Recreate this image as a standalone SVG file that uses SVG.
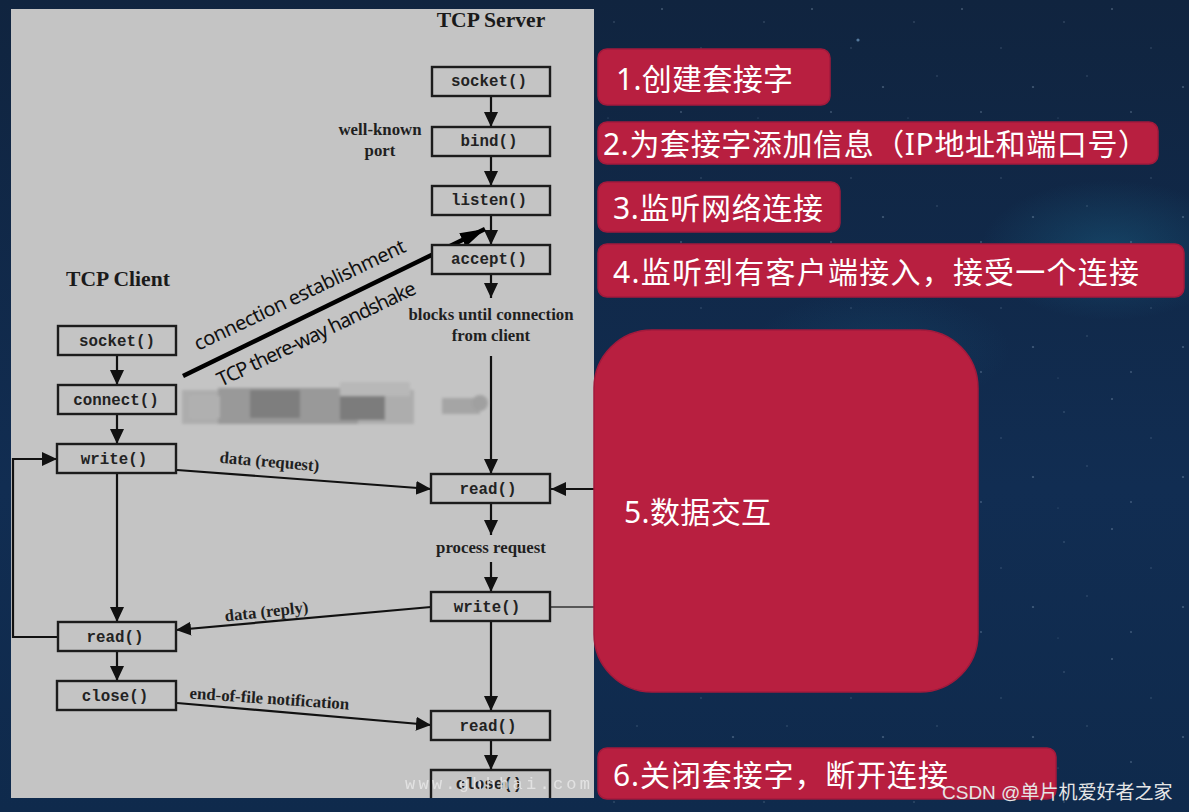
<svg xmlns="http://www.w3.org/2000/svg" width="1189" height="812" viewBox="0 0 1189 812">
<style>
.box{fill:#c4c4c4;stroke:#1c1c1c;stroke-width:2.4}
.fn{font-family:"Liberation Mono",monospace;font-weight:700;font-size:15.8px;fill:#222;text-anchor:middle}
.lb{font-family:"Liberation Serif",serif;font-weight:700;font-size:16.8px;fill:#1f1f1f;text-anchor:middle}
.hd{font-family:"Liberation Serif",serif;font-weight:700;font-size:21.6px;fill:#1a1a1a;text-anchor:middle}
.cn{fill:none;stroke:#111;stroke-width:2.2}
.rd{fill:#b81f40;stroke:#a21a3c;stroke-width:1.5}
.zh{font-family:"Noto Sans","Noto Sans CJK SC",sans-serif;font-size:30px;fill:#fff}
.an{font-family:"Noto Sans","Liberation Sans",sans-serif;font-size:20px;fill:#111}
</style>
<defs>
<marker id="a" markerUnits="userSpaceOnUse" markerWidth="17" markerHeight="15" refX="15" refY="7" orient="auto"><path d="M0 0L15 7L0 14z" fill="#111"/></marker>
<marker id="b" markerUnits="userSpaceOnUse" markerWidth="28" markerHeight="16" refX="25" refY="7.5" orient="auto"><path d="M0 0L25 7.5L0 15z" fill="#000"/></marker>
<linearGradient id="bg" x1="0" y1="0" x2="0" y2="1"><stop offset="0" stop-color="#10243f"/><stop offset=".6" stop-color="#112d52"/><stop offset="1" stop-color="#0f2a4c"/></linearGradient>
<radialGradient id="neb"><stop offset="0" stop-color="#1b6286" stop-opacity=".45"/><stop offset="1" stop-color="#1b6286" stop-opacity="0"/></radialGradient>
<filter id="bl"><feGaussianBlur stdDeviation="1.4"/></filter>
<pattern id="stars" width="150" height="130" patternUnits="userSpaceOnUse"><g fill="#9fb8cf" opacity=".35"><circle cx="14" cy="22" r=".8"/><circle cx="62" cy="9" r="1"/><circle cx="101" cy="48" r=".7"/><circle cx="133" cy="87" r="1.1"/><circle cx="37" cy="76" r=".7"/><circle cx="81" cy="112" r=".9"/><circle cx="8" cy="118" r=".6"/></g></pattern>
</defs>
<rect id="background" width="1189" height="812" fill="url(#bg)"/>
<ellipse cx="1110" cy="250" rx="130" ry="70" fill="url(#neb)"/>
<ellipse cx="880" cy="350" rx="130" ry="60" fill="url(#neb)" opacity=".5"/>
<rect x="594" width="595" height="812" fill="url(#stars)"/>
<circle cx="858" cy="40" r="1.6" fill="#54789c"/>
<rect id="panel" x="11" y="9" width="583" height="789" fill="#c4c4c4"/>

<g id="connectors">
<path class="cn" d="M491 97V127" marker-end="url(#a)"/>
<path class="cn" d="M491 156V186" marker-end="url(#a)"/>
<path class="cn" d="M491 215V245" marker-end="url(#a)"/>
<path class="cn" d="M491 274V298" marker-end="url(#a)"/>
<path class="cn" d="M491 356V474" marker-end="url(#a)"/>
<path class="cn" d="M491 503V535" marker-end="url(#a)"/>
<path class="cn" d="M491 562V592" marker-end="url(#a)"/>
<path class="cn" d="M491 621V711" marker-end="url(#a)"/>
<path class="cn" d="M491 740V770" marker-end="url(#a)"/>
<path class="cn" d="M117 355V385" marker-end="url(#a)"/>
<path class="cn" d="M117 414V444" marker-end="url(#a)"/>
<path class="cn" d="M117 473V622" marker-end="url(#a)"/>
<path class="cn" d="M117 651V681" marker-end="url(#a)"/>
<path class="cn" d="M58 637H13V459H57" marker-end="url(#a)"/>
<path class="cn" d="M177 470L431 489" marker-end="url(#a)"/>
<path class="cn" d="M431 607L176 630" marker-end="url(#a)"/>
<path class="cn" d="M177 703L431 725" marker-end="url(#a)"/>
<path class="cn" d="M594 489H551" marker-end="url(#a)"/>
<path d="M551 607H594" fill="none" stroke="#333" stroke-width="1.5"/>
<path d="M183 376L485 229" fill="none" stroke="#000" stroke-width="4.5" marker-end="url(#b)"/>
</g>

<g id="blur" filter="url(#bl)">
<rect x="182" y="390" width="232" height="34" fill="#adadad"/>
<rect x="218" y="388" width="140" height="36" fill="#999"/>
<rect x="250" y="390" width="50" height="28" fill="#7e7e7e"/>
<rect x="340" y="396" width="45" height="24" fill="#7c7c7c"/>
<rect x="190" y="396" width="30" height="22" fill="#b0b0b0"/>
<rect x="340" y="382" width="70" height="14" fill="#b8b8b8"/>
<rect x="442" y="398" width="38" height="16" fill="#a5a5a5"/>
<circle cx="480" cy="403" r="8" fill="#a0a0a0"/>
</g>

<g id="c-socket"><rect class="box" x="58" y="326" width="118" height="29"/><text class="fn" x="117" y="346">socket()</text></g>
<g id="c-connect"><rect class="box" x="58" y="385" width="118" height="29"/><text class="fn" x="116" y="405">connect()</text></g>
<g id="c-write"><rect class="box" x="57" y="444" width="119" height="29"/><text class="fn" x="114" y="464">write()</text></g>
<g id="c-read"><rect class="box" x="58" y="622" width="118" height="29"/><text class="fn" x="115" y="642">read()</text></g>
<g id="c-close"><rect class="box" x="57" y="681" width="119" height="29"/><text class="fn" x="115" y="701">close()</text></g>
<g id="s-socket"><rect class="box" x="432" y="67" width="118" height="29"/><text class="fn" x="489" y="86">socket()</text></g>
<g id="s-bind"><rect class="box" x="432" y="127" width="118" height="29"/><text class="fn" x="489" y="146">bind()</text></g>
<g id="s-listen"><rect class="box" x="432" y="186" width="118" height="29"/><text class="fn" x="489" y="205">listen()</text></g>
<g id="s-accept"><rect class="box" x="432" y="245" width="118" height="29"/><text class="fn" x="489" y="264">accept()</text></g>
<g id="s-read"><rect class="box" x="431" y="474" width="119" height="29"/><text class="fn" x="488" y="494">read()</text></g>
<g id="s-write"><rect class="box" x="431" y="592" width="119" height="29"/><text class="fn" x="487" y="612">write()</text></g>
<g id="s-read2"><rect class="box" x="431" y="711" width="119" height="29"/><text class="fn" x="488" y="731">read()</text></g>
<g id="s-close"><path class="box" d="M431 798V770H550V798"/><text class="fn" x="489" y="789">close()</text></g>

<g id="labels">
<text class="hd" x="491" y="27">TCP Server</text>
<text class="hd" x="118" y="286">TCP Client</text>
<text class="lb" x="380" y="135">well-known</text>
<text class="lb" x="380" y="156">port</text>
<text class="lb" x="491" y="320">blocks until connection</text>
<text class="lb" x="491" y="341">from client</text>
<text class="lb" x="491" y="553">process request</text>
<text class="lb" x="269" y="467" transform="rotate(5 269 467)">data (request)</text>
<text class="lb" x="267" y="617" transform="rotate(-6 267 617)">data (reply)</text>
<text class="lb" x="269" y="704" transform="rotate(4 269 704)">end-of-file notification</text>
<text class="an" x="198" y="351" transform="rotate(-25.5 198 351)" textLength="232">connection establishment</text>
<text class="an" x="221" y="387" transform="rotate(-25.5 221 387)" textLength="218">TCP there-way handshake</text>
<text x="405" y="789" font-family="Liberation Mono,monospace" font-size="17" fill="#e8e8e8" opacity=".85" textLength="185">www.ghhhai.com</text>
</g>

<g id="step1"><rect class="rd" x="598" y="49" width="232" height="56" rx="9"/><text class="zh" x="616" y="90" textLength="177">1.创建套接字</text></g>
<g id="step2"><rect class="rd" x="598" y="122" width="560" height="42" rx="9"/><text class="zh" x="603" y="155" textLength="545">2.为套接字添加信息（IP地址和端口号）</text></g>
<g id="step3"><rect class="rd" x="598" y="182" width="242" height="50" rx="9"/><text class="zh" x="613" y="219" textLength="210">3.监听网络连接</text></g>
<g id="step4"><rect class="rd" x="598" y="244" width="586" height="53" rx="9"/><text class="zh" x="613" y="283" textLength="526">4.监听到有客户端接入，接受一个连接</text></g>
<g id="step5"><rect class="rd" x="594" y="330" width="384" height="362" rx="58"/><text class="zh" x="624" y="523" textLength="147">5.数据交互</text></g>
<g id="step6"><rect class="rd" x="598" y="748" width="458" height="51" rx="9"/><text class="zh" x="613" y="786" textLength="335">6.关闭套接字，断开连接</text></g>
<text id="csdn" x="942" y="799" font-family="Liberation Sans,Noto Sans CJK SC,sans-serif" font-size="19" fill="#e6e6e6">CSDN @单片机爱好者之家</text>
</svg>
